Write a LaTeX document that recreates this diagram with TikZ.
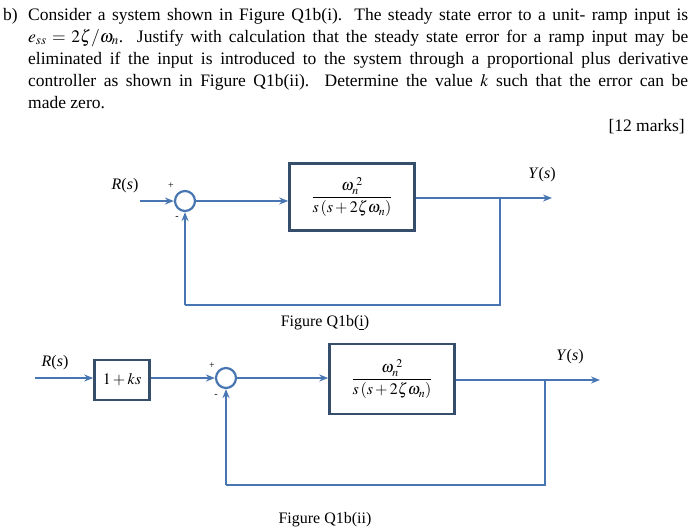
\documentclass[tikz,border=0pt]{standalone}
\usepackage{mathptmx}
\usepackage{fontspec}
\setmainfont{Liberation Serif}
\usetikzlibrary{arrows.meta}
\definecolor{ln}{RGB}{72,118,178}
\definecolor{bx}{RGB}{52,78,108}
\begin{document}
\begin{tikzpicture}[x=1pt,y=-1pt,
  sig/.style={ln,line width=2.2pt},
  arr/.style={sig,-{Stealth[length=9pt,width=7pt]}},
  blk/.style={draw=bx,line width=2.6pt,fill=white,inner sep=0pt,font=\fontsize{16}{18}\selectfont},
  sum/.style={circle,draw=ln,line width=2.2pt,minimum size=20pt,inner sep=0pt},
  lab/.style={font=\fontsize{16}{16}\selectfont,inner sep=0pt},
  sgn/.style={font=\fontsize{10}{10}\selectfont,inner sep=0pt}]
\useasboundingbox (0,0) rectangle (700,527);
\node[anchor=north west,inner sep=0pt,font=\fontsize{17.5}{22}\selectfont] (b) at (3,8) {b)};
\node[anchor=north west,inner sep=0pt,font=\fontsize{17.5}{22}\selectfont,text width=660pt,align=justify] (txt) at (28,8)
{Consider a system shown in Figure Q1b(i). The steady state error to a unit- ramp input is\linebreak
$e_{ss}=2\zeta/\omega_n$. Justify with calculation that the steady state error for a ramp input may be\linebreak
eliminated if the input is introduced to the system through a proportional plus derivative\linebreak
controller as shown in Figure Q1b(ii). Determine the value $k$ such that the error can be\linebreak
made zero.};
\node[anchor=east,inner sep=0pt,font=\fontsize{17.5}{22}\selectfont] (mk) at (685,127) {[12 marks]};
% Figure (i)
\coordinate (in1) at (140,201);
\node[sum] (s1) at (185,201) {};
\node[blk,minimum width=125pt,minimum height=67pt] (g1) at (352,197) {$\displaystyle\frac{\omega_n^{\;2}}{s\left(s+2\zeta\omega_n\right)}$};
\coordinate (br1) at (500,198);
\coordinate (out1) at (552,198);
\coordinate (bl1) at (500,305);
\coordinate (bk1) at (185,305);
\draw[arr] (in1) -- (s1.west);
\draw[arr] (s1.east) -- (g1.west |- s1);
\draw[arr] (g1.east |- br1) -- (out1);
\draw[sig] (br1) -- (bl1) -- (bk1);
\draw[arr] (bk1) -- (s1.south);
\node[lab] (r1) at (125,186) {\textit{R}(\textit{s})};
\node[lab] (y1) at (542,175) {\textit{Y}(\textit{s})};
\node[sgn] (p1) at (171,186) {+};
\node[sgn] (m1) at (177,218) {-};
\node[lab] (f1) at (325,323) {Figure Q1b(\underline{i})};
% Figure (ii)
\coordinate (in2) at (35,378);
\node[blk,minimum width=55pt,minimum height=40pt] (k) at (122,380) {$1+ks$};
\node[sum] (s2) at (226,378) {};
\node[blk,minimum width=125pt,minimum height=70pt] (g2) at (392,379) {$\displaystyle\frac{\omega_n^{\;2}}{s\left(s+2\zeta\omega_n\right)}$};
\coordinate (br2) at (545,380);
\coordinate (out2) at (600,380);
\coordinate (bl2) at (545,485);
\coordinate (bk2) at (226,485);
\draw[arr] (in2) -- (k.west |- in2);
\draw[arr] (k.east |- s2) -- (s2.west);
\draw[arr] (s2.east) -- (g2.west |- s2);
\draw[arr] (g2.east |- br2) -- (out2);
\draw[sig] (br2) -- (bl2) -- (bk2);
\draw[arr] (bk2) -- (s2.south);
\node[lab] (r2) at (55,363) {\textit{R}(\textit{s})};
\node[lab] (y2) at (570,357) {\textit{Y}(\textit{s})};
\node[sgn] (p2) at (212,366) {+};
\node[sgn] (m2) at (216,396) {-};
\node[lab] (f2) at (325,520) {Figure Q1b(ii)};
\end{tikzpicture}
\end{document}
